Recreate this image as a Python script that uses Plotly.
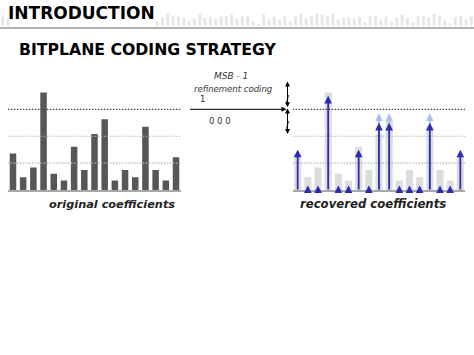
import plotly.graph_objects as go

W, H = 474, 355

# ---- data ----
coef_index = list(range(17))
original = [1.36, 0.47, 0.84, 3.62, 0.60, 0.35, 1.61, 0.74, 2.08, 2.63,
            0.35, 0.74, 0.47, 2.35, 0.74, 0.35, 1.22]
recovered = [1.5, 0, 0, 3.5, 0, 0, 1.5, 0, 2.5, 2.5, 0, 0, 0, 2.5, 0, 0, 1.5]
previous = [None, None, None, None, None, None, None, None, 2.85, 2.85,
            None, None, None, 2.85, None, None, None]
levels = [1, 2, 3]
intervals = [(2, 3), (3, 4)]
strip = ([9, 7] + [0] * 27 +
         [4, 8, 12, 9, 9, 8, 4, 7, 12, 8, 9, 7, 9, 9, 11, 7, 9, 9, 4,
          1, 11, 6, 9, 6, 9, 4, 9, 12, 7, 10, 12, 11, 9, 12, 6, 8, 8, 7, 9,
          3, 9, 10, 6, 9, 4, 8, 11, 7, 3, 9, 10, 8, 12, 9, 5, 2, 8, 10, 6, 9])

FONT = "DejaVu Sans"
DARK_BLUE = "#2b2bb3"
LIGHT_BLUE = "#a9c0ec"
HALF_STEP_PX = 5.08  # half the bar spacing of the right chart, in pixels


def px(p):
    return p / W


def py(p):
    return 1 - p / H


fig = go.Figure()

# dotted level lines (behind bars)
for ax_x, ax_y in (("x", "y"), ("x2", "y2")):
    for lv in levels:
        top = lv == max(levels)
        fig.add_trace(go.Scatter(
            x=[coef_index[0] - 0.5, coef_index[-1] + 0.6], y=[lv, lv],
            mode="lines", xaxis=ax_x, yaxis=ax_y, hoverinfo="skip",
            line=dict(color="#4a4a4a" if top else "#b4b4b4",
                      width=1.3 if top else 1.1, dash="1.5px,1.5px")))

# original coefficients (left)
fig.add_trace(go.Bar(x=coef_index, y=original, width=0.64,
                     marker=dict(color="#575757", line=dict(width=0)),
                     xaxis="x", yaxis="y"))
# original coefficients as light background (right)
fig.add_trace(go.Bar(x=coef_index, y=original, width=0.7,
                     marker=dict(color="#dddddd", line=dict(width=0)),
                     xaxis="x2", yaxis="y2"))
# header strip
fig.add_trace(go.Bar(x=list(range(len(strip))), y=strip, width=0.55,
                     marker=dict(color="#e6e6e6", line=dict(width=0)),
                     xaxis="x3", yaxis="y3"))

ann = []
ARROW = dict(xref="x2", yref="y2", axref="x2", ayref="y2", text="",
             showarrow=True, standoff=0, borderpad=0,
             font=dict(size=1))

# previous (light) reconstructions
for i, v in zip(coef_index, previous):
    if v is None:
        continue
    ann.append(dict(x=i, y=v, ax=i, ay=0, arrowhead=2, arrowsize=0.85,
                    arrowwidth=1.8, arrowcolor=LIGHT_BLUE, **ARROW))
# recovered (dark) reconstructions
for i, v in zip(coef_index, recovered):
    tip = v if v > 0 else 0.17
    ann.append(dict(x=i, y=tip, ax=i, ay=0, arrowhead=2, arrowsize=0.85,
                    arrowwidth=1.8, arrowcolor=DARK_BLUE, **ARROW))
# interval double arrows (one step left of the first coefficient)
for lo, hi in intervals:
    ann.append(dict(x=-0.5, y=hi + 0.03, ax=-0.5, ay=lo + 0.06,
                    xshift=-HALF_STEP_PX, arrowhead=2, arrowside="end+start",
                    arrowsize=1, arrowwidth=1, arrowcolor="black", **ARROW))
    ann.append(dict(x=-0.5, y=(lo + hi) / 2 - 0.1, xref="x2", yref="y2",
                    xshift=-HALF_STEP_PX, text="/", showarrow=False,
                    font=dict(family=FONT, size=9, color="black")))
# horizontal arrow
ann.append(dict(x=-0.5, y=3, xref="x2", yref="y2", ax=-97, ay=0, text="",
                xshift=-HALF_STEP_PX - 1, showarrow=True, arrowhead=2,
                arrowsize=1, arrowwidth=1, arrowcolor="black", standoff=0,
                borderpad=0, font=dict(size=1)))


def txt(s, x, y, size, color="black", xanchor="center"):
    ann.append(dict(text=s, x=px(x), y=py(y), xref="paper", yref="paper",
                    xanchor=xanchor, yanchor="middle", showarrow=False,
                    font=dict(family=FONT, size=size, color=color)))


txt("<b>INTRODUCTION</b>", 6, 13.5, 17, xanchor="left")
txt("<b>BITPLANE CODING STRATEGY</b>", 17, 49.5, 15.7, xanchor="left")
txt("<i>MSB - 1</i>", 231, 76.5, 9, "#333333")
txt("<i>refinement coding</i>", 233, 89.3, 8.5, "#333333")
txt("1", 202, 99, 8.5, "#333333")
txt("0 0 0", 220, 120.5, 8.5, "#333333")
txt("<b><i>original coefficients</i></b>", 111.7, 204, 11.3, "#222222")
txt("<b><i>recovered coefficients</i></b>", 372.5, 204, 11.7, "#222222")

hidden = dict(showgrid=False, zeroline=False, showticklabels=False, ticks="",
              fixedrange=True)
n_strip = len(strip)
fig.update_layout(
    width=W, height=H, margin=dict(l=0, r=0, t=0, b=0),
    paper_bgcolor="white", plot_bgcolor="white", showlegend=False,
    barmode="overlay",
    xaxis=dict(domain=[px(7.9), px(181.1)], range=[-0.5, 16.5], anchor="y",
               showline=True, linecolor="#a8a8a8", linewidth=2, **hidden),
    yaxis=dict(domain=[py(190), py(82.4)], range=[0, 4], anchor="x",
               **hidden),
    xaxis2=dict(domain=[px(292.6), px(465.4)], range=[-0.5, 16.5],
                anchor="y2", showline=True, linecolor="#a8a8a8", linewidth=2,
                **hidden),
    yaxis2=dict(domain=[py(190), py(82.4)], range=[0, 4], anchor="x2",
                **hidden),
    xaxis3=dict(domain=[0, 1], range=[-0.5, n_strip - 0.5], anchor="y3",
                showline=True, linecolor="#b0b0b0", linewidth=2, **hidden),
    yaxis3=dict(domain=[py(26.5), py(12)], range=[-1, 13.5], anchor="x3",
                **hidden),
    annotations=ann,
)

fig.write_html("out.html")
